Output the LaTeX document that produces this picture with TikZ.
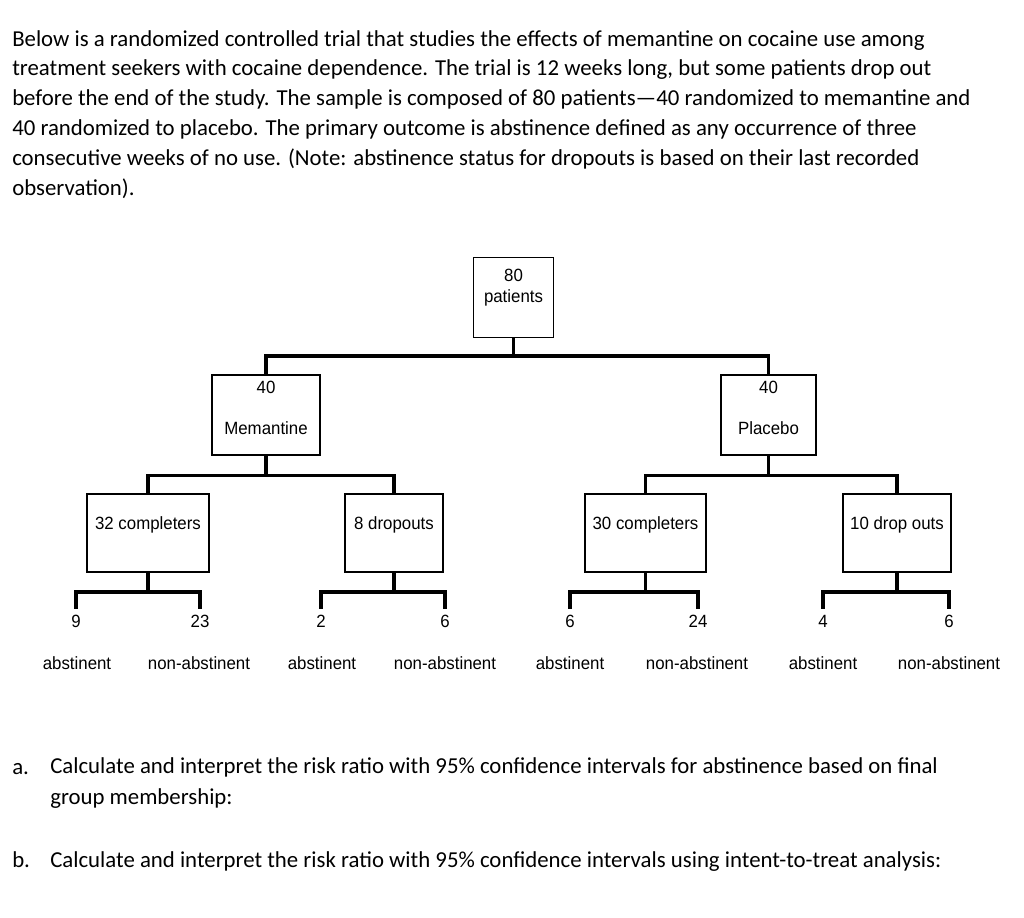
\documentclass[tikz,border=0pt]{standalone}
\usepackage{fontspec}
\setmainfont{Carlito}
\newfontfamily\narrowsf[FakeStretch=0.95]{Liberation Sans}
\usetikzlibrary{positioning}

\begin{document}
\begin{tikzpicture}[
  x=0.75pt, y=-0.75pt,
  txt/.style={font=\fontsize{17.1pt}{22.4pt}\selectfont, align=left, inner sep=0pt},
  qtxt/.style={font=\fontsize{17.1pt}{23.4pt}\selectfont, align=left, inner sep=0pt},
  box/.style={draw, line width=0.8pt, inner sep=0pt,
              font=\narrowsf\fontsize{13.3pt}{16pt}\selectfont},
  grp/.style={box, minimum height=60pt, text height=28.5pt, text depth=0pt},
  sub/.style={box, minimum height=58.5pt, text height=9pt, text depth=15pt},
  cnt/.style={font=\narrowsf\fontsize{13.3pt}{16pt}\selectfont, inner sep=0pt, anchor=north},
  num/.style={font=\narrowsf\fontsize{13.3pt}{16pt}\selectfont, inner ysep=4pt, inner xsep=0pt},
  lab/.style={font=\narrowsf\fontsize{13.3pt}{16pt}\selectfont, inner sep=0pt},
  link/.style={line width=2.4pt}
]
\useasboundingbox (0,0) rectangle (1024,917);

% ================= Question text =================
\node[txt, anchor=north west] (intro) at (12,30)
  {Below is a randomized controlled trial that studies the effects of memantine on cocaine use among\\
   treatment seekers with cocaine dependence.  The trial is 12 weeks long, but some patients drop out\\
   before the end of the study.  The sample is composed of 80 patients---40 randomized to memantine and\\
   40 randomized to placebo.  The primary outcome is abstinence defined as any occurrence of three\\
   consecutive weeks of no use.  (Note: abstinence status for dropouts is based on their last recorded\\
   observation).};

% ================= Level 1: all patients =================
\node[box, minimum width=60pt, minimum height=60pt,
      label={[cnt, yshift=-9pt]north:80}] (pat) at (513.5,297.5) {patients};

% ================= Level 2: arms =================
\node[grp, minimum width=81pt, label={[cnt, yshift=-4.5pt]north:40}] (mem) at (266,415) {Memantine};
\node[grp, minimum width=71.25pt, label={[cnt, yshift=-4.5pt]north:40}] (plac) at (768.5,415) {Placebo};

\draw[link] (pat.south) -- ++(0,18) -| (mem.north);
\draw[link] (pat.south) -- ++(0,18) -| (plac.north);

% ================= Level 3: completers / dropouts =================
\node[sub, minimum width=91.5pt] (c32) at (148,533) {32 completers};
\node[sub, minimum width=73.5pt] (d8) at (394,533) {8 dropouts};
\node[sub, minimum width=90.75pt] (c30) at (645.5,533) {30 completers};
\node[sub, minimum width=81pt] (d10) at (897,533) {10 drop outs};

\draw[link] (mem.south) -- ++(0,20) -| (c32.north);
\draw[link] (mem.south) -- ++(0,20) -| (d8.north);
\draw[link] (plac.south) -- ++(0,20) -| (c30.north);
\draw[link] (plac.south) -- ++(0,20) -| (d10.north);

% ================= Level 4: outcomes =================
\node[num] (n9) at (76,621) {9};
\node[num] (n23) at (200,621) {23};
\node[num] (n2) at (321,621) {2};
\node[num] (n6a) at (445,621) {6};
\node[num] (n6b) at (570,621) {6};
\node[num] (n24) at (698,621) {24};
\node[num] (n4) at (823,621) {4};
\node[num] (n6c) at (949,621) {6};

\draw[link] (c32.south) -- ++(0,19.5) -| (n9.north);
\draw[link] (c32.south) -- ++(0,19.5) -| (n23.north);
\draw[link] (d8.south) -- ++(0,19.5) -| (n2.north);
\draw[link] (d8.south) -- ++(0,19.5) -| (n6a.north);
\draw[link] (c30.south) -- ++(0,19.5) -| (n6b.north);
\draw[link] (c30.south) -- ++(0,19.5) -| (n24.north);
\draw[link] (d10.south) -- ++(0,19.5) -| (n4.north);
\draw[link] (d10.south) -- ++(0,19.5) -| (n6c.north);

\node[lab] (ab1) at (77,663) {abstinent};
\node[lab] (nab1) at (199,663) {non-abstinent};
\node[lab] (ab2) at (322,663) {abstinent};
\node[lab] (nab2) at (445,663) {non-abstinent};
\node[lab] (ab3) at (570,663) {abstinent};
\node[lab] (nab3) at (697,663) {non-abstinent};
\node[lab] (ab4) at (823,663) {abstinent};
\node[lab] (nab4) at (949,663) {non-abstinent};

% ================= Parts a and b =================
\node[qtxt, anchor=base west] (qa) at (12,774) {a.};
\node[qtxt, anchor=base west] (qb) at (12,867) {b.};
\node[qtxt, anchor=north west] (qatext) at (50,757)
  {Calculate and interpret the risk ratio with 95\% confidence intervals for abstinence based on final\\
   group membership:};
\node[qtxt, anchor=base west] (qbtext) at (50,867)
  {Calculate and interpret the risk ratio with 95\% confidence intervals using intent-to-treat analysis:};

\end{tikzpicture}
\end{document}
